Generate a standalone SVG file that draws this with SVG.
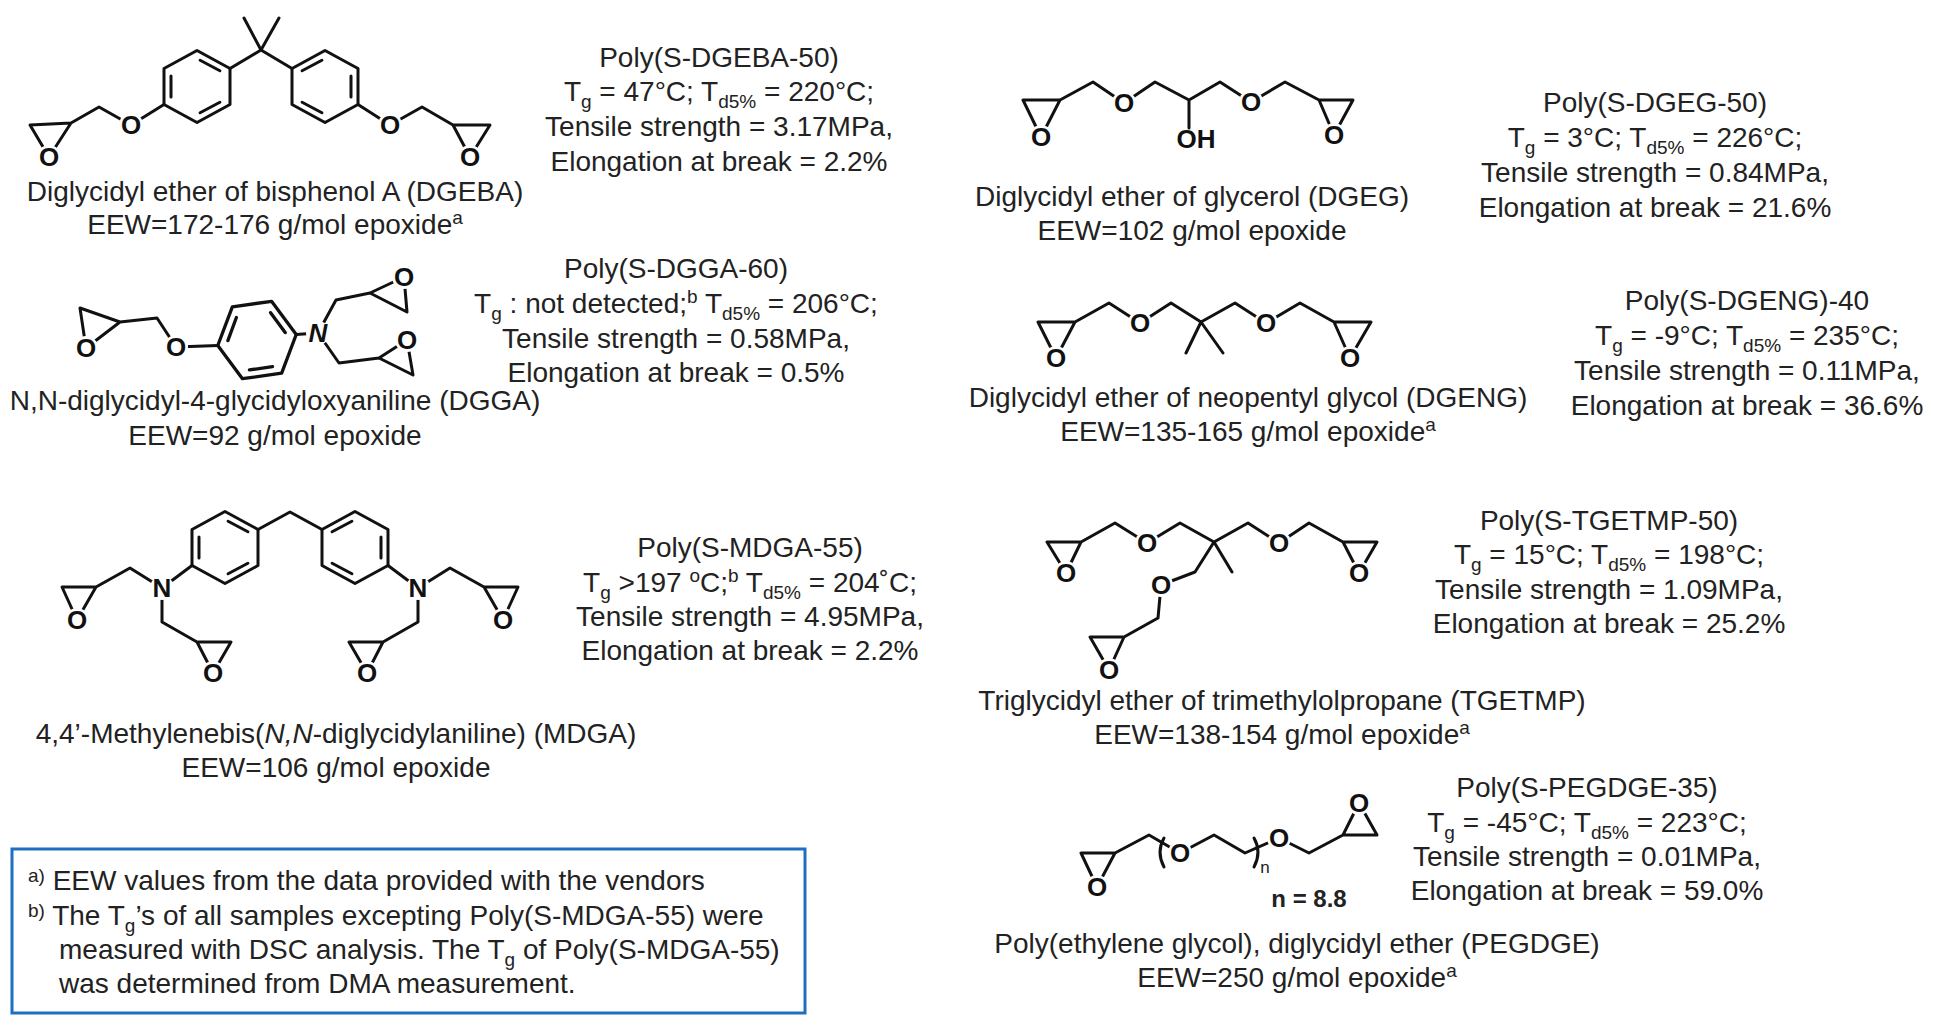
<svg xmlns="http://www.w3.org/2000/svg" xmlns:xlink="http://www.w3.org/1999/xlink" width="1935" height="1021" viewBox="0 0 1935 1021">
<style>
.t{font-family:"Liberation Sans",Arial,sans-serif;font-size:28px;fill:#222;text-anchor:middle}
.s{font-size:19px}
.b{fill:none;stroke:#111;stroke-width:3;stroke-linejoin:round;stroke-linecap:round}
.a{font-family:"Liberation Sans",Arial,sans-serif;font-size:26px;font-weight:bold;fill:#111;text-anchor:middle;dominant-baseline:central}
.w{fill:#fff}
.fn{font-family:"Liberation Sans",Arial,sans-serif;font-size:28px;fill:#222}
</style>
<defs>
<g id="ring">
<polygon class="b" points="0,-36 33,-18 33,18 0,36 -33,18 -33,-18"/>
<path class="b" d="M-26,-10.6 L-26,10.6 M3.1,-26.3 L22.9,-15.7 M22.9,15.7 L3.1,26.3"/>
</g>
<circle id="bg" r="12" class="w"/>
</defs>
<rect width="1935" height="1021" fill="#fff"/>

<g id="dgeba">
<use xlink:href="#ring" transform="translate(197,86.5)"/>
<use xlink:href="#ring" transform="translate(325,86.5) scale(-1,1)"/>
<path class="b" d="M244,18 L261,50 L279,18 M261,50 L230,68.5 M261,50 L292,68.5 M164,104.5 L131,125 L99,107 L71,123 L30,125 L49,157 L71,123 M358,104.5 L390,125 L422,107 L453,125 L490,125 L470,157 L453,125"/>
<use xlink:href="#bg" x="131" y="125"/><use xlink:href="#bg" x="49" y="157"/><use xlink:href="#bg" x="390" y="125"/><use xlink:href="#bg" x="470" y="157"/>
<text class="a" x="131" y="125">O</text><text class="a" x="49" y="157">O</text>
<text class="a" x="390" y="125">O</text><text class="a" x="470" y="157">O</text>
<text class="t" x="275" y="201">Diglycidyl ether of bisphenol A (DGEBA)</text>
<text class="t" x="275" y="234">EEW=172-176 g/mol epoxide<tspan class="s" dy="-10">a</tspan></text>
<text class="t" x="719" y="67">Poly(S-DGEBA-50)</text>
<text class="t" x="719" y="101">T<tspan class="s" dy="7">g</tspan><tspan dy="-7"> = 47°C; T</tspan><tspan class="s" dy="7">d5%</tspan><tspan dy="-7"> = 220°C;</tspan></text>
<text class="t" x="719" y="136">Tensile strength = 3.17MPa,</text>
<text class="t" x="719" y="171">Elongation at break = 2.2%</text>
</g>

<g id="dgga">
<use xlink:href="#ring" transform="translate(257,340) rotate(-98) scale(1.1)"/>
<path class="b" d="M80,308 L120,322 L86,348 Z M120,322 L157,318 L176,347 L218,345.5 M296,334.5 L318,333 L336,300 L370,293 L407,312 L404,277 L370,293 M318,333 L339,363 L379,358 L413,375 L407,340 L379,358"/>
<use xlink:href="#bg" x="86" y="348"/><use xlink:href="#bg" x="176" y="347"/><use xlink:href="#bg" x="318" y="333"/><use xlink:href="#bg" x="404" y="277"/><use xlink:href="#bg" x="407" y="340"/>
<text class="a" x="86" y="348">O</text><text class="a" x="176" y="347">O</text>
<text class="a" x="318" y="333" font-style="italic">N</text>
<text class="a" x="404" y="277">O</text><text class="a" x="407" y="340">O</text>
<text class="t" x="275" y="410">N,N-diglycidyl-4-glycidyloxyaniline (DGGA)</text>
<text class="t" x="275" y="445">EEW=92 g/mol epoxide</text>
<text class="t" x="676" y="278">Poly(S-DGGA-60)</text>
<text class="t" x="676" y="313">T<tspan class="s" dy="7">g</tspan><tspan dy="-7"> : not detected;</tspan><tspan class="s" dy="-10">b</tspan><tspan dy="10"> T</tspan><tspan class="s" dy="7">d5%</tspan><tspan dy="-7"> = 206°C;</tspan></text>
<text class="t" x="676" y="348">Tensile strength = 0.58MPa,</text>
<text class="t" x="676" y="382">Elongation at break = 0.5%</text>
</g>

<g id="mdga">
<use xlink:href="#ring" transform="translate(225,547.5)"/>
<use xlink:href="#ring" transform="translate(355,547.5) scale(-1,1)"/>
<path class="b" d="M258,529.5 L290,512 L322,529.5 M192,565.5 L162,588 L130,568 L96,587 L62,587 L77,620 L96,587 M162,588 L162,622 L197,642 L231,642 L213,673 L197,642 M388,565.5 L418,588 L450,568 L484,587 L518,587 L503,620 L484,587 M418,588 L418,622 L383,642 L349,642 L367,673 L383,642"/>
<use xlink:href="#bg" x="162" y="588"/><use xlink:href="#bg" x="418" y="588"/><use xlink:href="#bg" x="77" y="620"/><use xlink:href="#bg" x="213" y="673"/><use xlink:href="#bg" x="503" y="620"/><use xlink:href="#bg" x="367" y="673"/>
<text class="a" x="162" y="588">N</text><text class="a" x="418" y="588">N</text>
<text class="a" x="77" y="620">O</text><text class="a" x="213" y="673">O</text>
<text class="a" x="503" y="620">O</text><text class="a" x="367" y="673">O</text>
<text class="t" x="336" y="743">4,4’-Methylenebis(<tspan font-style="italic">N,N</tspan>-diglycidylaniline) (MDGA)</text>
<text class="t" x="336" y="777">EEW=106 g/mol epoxide</text>
<text class="t" x="750" y="557">Poly(S-MDGA-55)</text>
<text class="t" x="750" y="592">T<tspan class="s" dy="7">g</tspan><tspan dy="-7"> &gt;197 </tspan><tspan class="s" dy="-10">o</tspan><tspan dy="10">C;</tspan><tspan class="s" dy="-10">b</tspan><tspan dy="10"> T</tspan><tspan class="s" dy="7">d5%</tspan><tspan dy="-7"> = 204˚C;</tspan></text>
<text class="t" x="750" y="626">Tensile strength = 4.95MPa,</text>
<text class="t" x="750" y="660">Elongation at break = 2.2%</text>
</g>

<g id="note">
<rect x="12" y="849" width="793" height="164" fill="none" stroke="#1f6fc0" stroke-width="3"/>
<text class="fn" x="28" y="890"><tspan class="s" dy="-8">a)</tspan><tspan dy="8"> EEW values from the data provided with the vendors</tspan></text>
<text class="fn" x="28" y="925"><tspan class="s" dy="-8">b)</tspan><tspan dy="8"> The T</tspan><tspan class="s" dy="7">g</tspan><tspan dy="-7">’s of all samples excepting Poly(S-MDGA-55) were</tspan></text>
<text class="fn" x="59" y="959">measured with DSC analysis. The T<tspan class="s" dy="7">g</tspan><tspan dy="-7"> of Poly(S-MDGA-55)</tspan></text>
<text class="fn" x="59" y="993">was determined from DMA measurement.</text>
</g>

<g id="dgeg">
<path class="b" d="M1041,137 L1023,100 L1060,100 L1041,137 M1060,100 L1093,82 L1124,103 L1155,82 L1189,100 L1220,82 L1251,102 L1285,82 L1319,100 L1353,100 L1334,135 L1319,100 M1189,100 L1189,128"/>
<use xlink:href="#bg" x="1041" y="137"/><use xlink:href="#bg" x="1124" y="103"/><use xlink:href="#bg" x="1251" y="102"/><use xlink:href="#bg" x="1334" y="135"/>
<text class="a" x="1041" y="137">O</text><text class="a" x="1124" y="103">O</text><text class="a" x="1251" y="102">O</text><text class="a" x="1334" y="135">O</text>
<text class="a" x="1196" y="139">OH</text>
<text class="t" x="1192" y="206">Diglycidyl ether of glycerol (DGEG)</text>
<text class="t" x="1192" y="240">EEW=102 g/mol epoxide</text>
<text class="t" x="1655" y="112">Poly(S-DGEG-50)</text>
<text class="t" x="1655" y="147">T<tspan class="s" dy="7">g</tspan><tspan dy="-7"> = 3°C; T</tspan><tspan class="s" dy="7">d5%</tspan><tspan dy="-7"> = 226°C;</tspan></text>
<text class="t" x="1655" y="182">Tensile strength = 0.84MPa,</text>
<text class="t" x="1655" y="217">Elongation at break = 21.6%</text>
</g>

<g id="dgeng">
<path class="b" d="M1056,358 L1038,322 L1075,322 L1056,358 M1075,322 L1109,303 L1140,323 L1171,303 L1201,322 L1235,303 L1266,323 L1300,303 L1334,322 L1371,322 L1350,358 L1334,322 M1186,353 L1201,322 L1223,353"/>
<use xlink:href="#bg" x="1056" y="358"/><use xlink:href="#bg" x="1140" y="323"/><use xlink:href="#bg" x="1266" y="323"/><use xlink:href="#bg" x="1350" y="358"/>
<text class="a" x="1056" y="358">O</text><text class="a" x="1140" y="323">O</text><text class="a" x="1266" y="323">O</text><text class="a" x="1350" y="358">O</text>
<text class="t" x="1248" y="407">Diglycidyl ether of neopentyl glycol (DGENG)</text>
<text class="t" x="1248" y="441">EEW=135-165 g/mol epoxide<tspan class="s" dy="-10">a</tspan></text>
<text class="t" x="1747" y="310">Poly(S-DGENG)-40</text>
<text class="t" x="1747" y="345">T<tspan class="s" dy="7">g</tspan><tspan dy="-7"> = -9°C; T</tspan><tspan class="s" dy="7">d5%</tspan><tspan dy="-7"> = 235°C;</tspan></text>
<text class="t" x="1747" y="380">Tensile strength = 0.11MPa,</text>
<text class="t" x="1747" y="415">Elongation at break = 36.6%</text>
</g>

<g id="tgetmp">
<path class="b" d="M1066,573 L1047,542 L1081,542 L1066,573 M1081,542 L1115,523 L1147,543 L1180,523 L1214,542 L1248,523 L1279,543 L1309,523 L1343,542 L1377,542 L1359,573 L1343,542 M1214,542 L1232,572 M1214,542 L1195,572 L1161,585 L1158,618 L1124,637 L1090,637 L1109,670 L1124,637"/>
<use xlink:href="#bg" x="1066" y="573"/><use xlink:href="#bg" x="1147" y="543"/><use xlink:href="#bg" x="1279" y="543"/><use xlink:href="#bg" x="1359" y="573"/><use xlink:href="#bg" x="1161" y="585"/><use xlink:href="#bg" x="1109" y="670"/>
<text class="a" x="1066" y="573">O</text><text class="a" x="1147" y="543">O</text><text class="a" x="1279" y="543">O</text><text class="a" x="1359" y="573">O</text>
<text class="a" x="1161" y="585">O</text><text class="a" x="1109" y="670">O</text>
<text class="t" x="1282" y="710">Triglycidyl ether of trimethylolpropane (TGETMP)</text>
<text class="t" x="1282" y="744">EEW=138-154 g/mol epoxide<tspan class="s" dy="-10">a</tspan></text>
<text class="t" x="1609" y="530">Poly(S-TGETMP-50)</text>
<text class="t" x="1609" y="564">T<tspan class="s" dy="7">g</tspan><tspan dy="-7"> = 15°C; T</tspan><tspan class="s" dy="7">d5%</tspan><tspan dy="-7"> = 198°C;</tspan></text>
<text class="t" x="1609" y="599">Tensile strength = 1.09MPa,</text>
<text class="t" x="1609" y="633">Elongation at break = 25.2%</text>
</g>

<g id="pegdge">
<path class="b" d="M1097,887 L1081,853 L1115,853 L1097,887 M1115,853 L1149,835 L1180,853 L1214,835 L1245,853 L1279,838 L1309,853 L1343,835 L1377,835 L1359,803 L1343,835"/>
<path class="b" d="M1164,838 Q1156,852 1164,867 M1254,838 Q1262,852 1254,867"/>
<use xlink:href="#bg" x="1180" y="853"/><use xlink:href="#bg" x="1279" y="838"/><use xlink:href="#bg" x="1097" y="887"/><use xlink:href="#bg" x="1359" y="803"/>
<text class="a" x="1180" y="853">O</text><text class="a" x="1279" y="838">O</text><text class="a" x="1097" y="887">O</text><text class="a" x="1359" y="803">O</text>
<text class="t" x="1265" y="873" style="font-size:17px">n</text>
<text class="t" x="1309" y="907" font-weight="bold" style="font-size:24px">n = 8.8</text>
<text class="t" x="1297" y="953">Poly(ethylene glycol), diglycidyl ether (PEGDGE)</text>
<text class="t" x="1297" y="987">EEW=250 g/mol epoxide<tspan class="s" dy="-10">a</tspan></text>
<text class="t" x="1587" y="797">Poly(S-PEGDGE-35)</text>
<text class="t" x="1587" y="832">T<tspan class="s" dy="7">g</tspan><tspan dy="-7"> = -45°C; T</tspan><tspan class="s" dy="7">d5%</tspan><tspan dy="-7"> = 223°C;</tspan></text>
<text class="t" x="1587" y="866">Tensile strength = 0.01MPa,</text>
<text class="t" x="1587" y="900">Elongation at break = 59.0%</text>
</g>
</svg>
